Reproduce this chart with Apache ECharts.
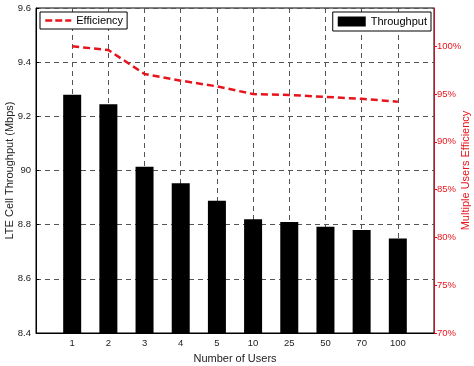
<!DOCTYPE html>
<html><head><meta charset="utf-8">
<script src="https://cdn.jsdelivr.net/npm/echarts@6/dist/echarts.min.js"></script>
<style>html,body{margin:0;padding:0;background:#fff}#c{width:474px;height:366px}</style>
</head><body><div id="c"></div>
<script>
const categories = ['1','2','3','4','5','10','25','50','70','100'];
const throughput = [9.28, 9.245, 9.014, 8.953, 8.888, 8.82, 8.81, 8.792, 8.78, 8.749];
const efficiency = [100.0, 99.6, 97.1, 96.4, 95.8, 95.0, 94.9, 94.7, 94.5, 94.2];
const leftTickLabels = ['8.4','8.6','8.8','90','9.2','9.4','9.6'];
const rightTickLabels = ['70%','75%','80%','85%','90%','95%','100%'];

const cats = [''].concat(categories, ['']);
const pad = a => [null].concat(a, [null]);
const font = 'Liberation Sans, Arial, sans-serif';
const chart = echarts.init(document.getElementById('c'));
chart.setOption({
  animation: false,
  grid: {left: 36, right: 40, top: 8, bottom: 33, containLabel: false, outerBoundsMode: 'none',
         show: true, borderColor: '#000', borderWidth: 1},
  legend: [
    {data: ['Efficiency'], left: 40, top: 12, orient: 'horizontal', backgroundColor: '#fff', borderColor: '#000', borderWidth: 1, borderRadius: 0,
     padding: [3, 4, 3, 4], itemWidth: 26, itemHeight: 10, itemGap: 3, itemStyle: {opacity: 0},
     lineStyle: {color: '#e8141c', width: 2.5, type: [7, 3], opacity: 1},
     textStyle: {fontFamily: font, fontSize: 11, color: '#000'}},
    {data: ['Throughput'], right: 43, top: 12, backgroundColor: '#fff', borderColor: '#000', borderWidth: 1, borderRadius: 0,
     padding: [4, 4, 4, 5], itemWidth: 28, itemHeight: 10, itemGap: 3, icon: 'rect', textStyle: {fontFamily: font, fontSize: 11, color: '#000'}}
  ],
  xAxis: {
    type: 'category', data: cats, boundaryGap: false,
    name: 'Number of Users', nameLocation: 'middle', nameGap: 20, nameMoveOverlap: false,
    nameTextStyle: {fontFamily: font, fontSize: 11, color: '#222'},
    axisLine: {lineStyle: {color: '#000'}},
    axisTick: {show: false},
    axisLabel: {interval: 0, fontFamily: font, fontSize: 9.5, color: '#222', margin: 5},
    splitLine: {show: true, interval: 0, lineStyle: {color: '#555', type: [5, 4], width: 1}}
  },
  yAxis: [
    {type: 'value', min: 8.4, max: 9.6, interval: 0.2,
     name: 'LTE Cell Throughput (Mbps)', nameLocation: 'middle', nameGap: 21, nameMoveOverlap: false,
     nameTextStyle: {fontFamily: font, fontSize: 11, color: '#222'},
     axisLine: {show: true, lineStyle: {color: '#000'}},
     axisTick: {show: true, inside: true, length: 3, lineStyle: {color: '#000'}},
     axisLabel: {fontFamily: font, fontSize: 9.5, color: '#222', margin: 5,
       formatter: v => leftTickLabels[Math.round((v - 8.4) / 0.2)]},
     splitLine: {show: true, lineStyle: {color: '#555', type: [5, 4], width: 1}}},
    {type: 'value', min: 70, max: 104, interval: 5, position: 'right',
     name: 'Multiple Users Efficiency', nameLocation: 'middle', nameGap: 26, nameRotate: 90, nameMoveOverlap: false,
     nameTextStyle: {fontFamily: font, fontSize: 11, color: '#e8141c'},
     axisLine: {show: true, lineStyle: {color: '#d0101a', width: 1}},
     axisTick: {show: true, length: 3, lineStyle: {color: '#d0101a'}},
     axisLabel: {showMaxLabel: false, fontFamily: font, fontSize: 9.5, color: '#e8141c', margin: 3,
       formatter: v => v <= 100 ? rightTickLabels[Math.round((v - 70) / 5)] : ''},
     splitLine: {show: false}}
  ],
  series: [
    {name: 'Throughput', type: 'bar', data: pad(throughput), barWidth: 18, itemStyle: {color: '#000'}, yAxisIndex: 0, z: 2},
    {name: 'Efficiency', type: 'line', data: pad(efficiency), yAxisIndex: 1, symbol: 'none', connectNulls: false,
     lineStyle: {color: '#e8141c', width: 2.5, type: [7, 4]}, itemStyle: {color: '#e8141c'}, z: 3}
  ]
});
</script></body></html>
